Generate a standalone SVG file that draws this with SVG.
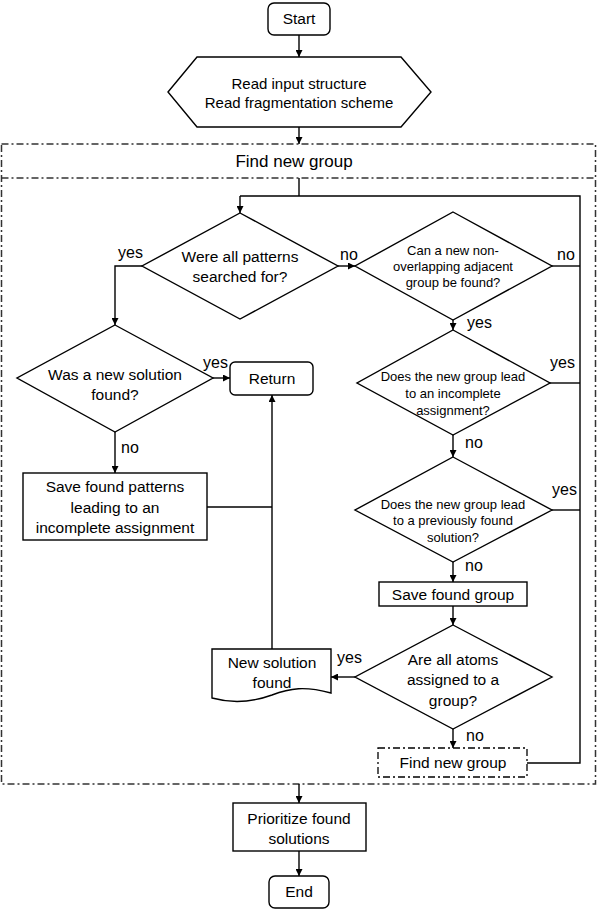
<svg xmlns="http://www.w3.org/2000/svg" width="598" height="910" viewBox="0 0 598 910">
<defs>
<marker id="ah" viewBox="0 0 10 10" refX="10" refY="5" markerWidth="7" markerHeight="7" markerUnits="userSpaceOnUse" orient="auto">
<path d="M0,0 L10,5 L0,10 Z" fill="#000"/>
</marker>
<style>
.s{fill:#fff;stroke:#000;stroke-width:1.4}
.d{fill:none;stroke:#333;stroke-width:1.5;stroke-dasharray:7 3 2 3}
.ds{fill:#fff;stroke:#000;stroke-width:1.3;stroke-dasharray:7 3 2 3}
.c{fill:none;stroke:#000;stroke-width:1.4}
.a{marker-end:url(#ah)}
text{font-family:"Liberation Sans",Arial,sans-serif;fill:#000;text-anchor:middle}
.t{font-size:15.5px}
.r{font-size:15px}
.m{font-size:13px}
.l{font-size:16px;text-anchor:start}
.h{font-size:17px}
</style>
</defs>
<g id="container">
<rect class="d" x="1.5" y="144" width="594" height="640"/>
<line class="d" x1="1.5" y1="178" x2="595.5" y2="178"/>
<text class="h" x="294" y="167">Find new group</text>
</g>
<g id="connectors">
<path class="c a" d="M299,35 V57"/>
<path class="c a" d="M299,127 V144"/>
<path class="c" d="M299,178 V196 M240,196 H580 V763 H527"/>
<path class="c a" d="M240,196 V213"/>
<path class="c a" d="M142,266 H115 V325"/>
<path class="c a" d="M338,266 H355"/>
<path class="c" d="M552,266 H580"/>
<path class="c a" d="M453,320 V330"/>
<path class="c" d="M550,383 H580"/>
<path class="c a" d="M453,435 V457"/>
<path class="c" d="M552,510 H580"/>
<path class="c a" d="M453,562 V582"/>
<path class="c a" d="M453,606 V625"/>
<path class="c a" d="M355,677 H331"/>
<path class="c a" d="M453,729 V748"/>
<path class="c a" d="M213,378 H230"/>
<path class="c a" d="M115,432 V473"/>
<path class="c" d="M207,507 H272"/>
<path class="c a" d="M272,649 V395"/>
<path class="c a" d="M299,784 V803"/>
<path class="c a" d="M299,851 V876"/>
<text class="l" x="118" y="258">yes</text>
<text class="l" x="340" y="260">no</text>
<text class="l" x="557" y="260">no</text>
<text class="l" x="467" y="328">yes</text>
<text class="l" x="550" y="368">yes</text>
<text class="l" x="465" y="448">no</text>
<text class="l" x="552" y="495">yes</text>
<text class="l" x="465" y="571">no</text>
<text class="l" x="337" y="663">yes</text>
<text class="l" x="466" y="741">no</text>
<text class="l" x="203" y="368">yes</text>
<text class="l" x="121" y="453">no</text>
</g>
<g id="start">
<rect class="s" x="268" y="3" width="62" height="32" rx="6"/>
<text class="t" x="299" y="24">Start</text>
</g>
<g id="read">
<path class="s" d="M168,92 L197,57 H401 L431,92 L401,127 H197 Z"/>
<text class="r" x="299" y="89">Read input structure</text>
<text class="r" x="299" y="108">Read fragmentation scheme</text>
</g>
<g id="all-patterns">
<path class="s" d="M240,213 L338,266 L240,319 L142,266 Z"/>
<text class="t" x="240" y="262">Were all patterns</text>
<text class="t" x="240" y="282">searched for?</text>
</g>
<g id="new-solution-q">
<path class="s" d="M115,325 L213,378 L115,432 L17,378 Z"/>
<text class="t" x="115" y="380">Was a new solution</text>
<text class="t" x="115" y="400">found?</text>
</g>
<g id="return">
<rect class="s" x="230" y="362" width="83" height="33" rx="5"/>
<text class="t" x="272" y="384">Return</text>
</g>
<g id="save-patterns">
<rect class="s" x="23" y="473" width="184" height="67"/>
<text class="t" x="115" y="492">Save found patterns</text>
<text class="t" x="115" y="513">leading to an</text>
<text class="t" x="115" y="533">incomplete assignment</text>
</g>
<g id="adjacent">
<path class="s" d="M453,212 L552,266 L453,320 L355,266 Z"/>
<text class="m" x="453" y="255">Can a new non-</text>
<text class="m" x="453" y="271">overlapping adjacent</text>
<text class="m" x="453" y="287">group be found?</text>
</g>
<g id="incomplete">
<path class="s" d="M453,330 L550,383 L453,435 L357,383 Z"/>
<text class="m" x="453" y="381">Does the new group lead</text>
<text class="m" x="453" y="398">to an incomplete</text>
<text class="m" x="453" y="415">assignment?</text>
</g>
<g id="previous">
<path class="s" d="M453,457 L552,510 L453,562 L355,510 Z"/>
<text class="m" x="453" y="509">Does the new group lead</text>
<text class="m" x="453" y="525">to a previously found</text>
<text class="m" x="453" y="542">solution?</text>
</g>
<g id="save-group">
<rect class="s" x="379" y="582" width="148" height="24"/>
<text class="t" x="453" y="600">Save found group</text>
</g>
<g id="all-atoms">
<path class="s" d="M453,625 L552,677 L453,729 L355,677 Z"/>
<text class="t" x="453" y="665">Are all atoms</text>
<text class="t" x="453" y="685">assigned to a</text>
<text class="t" x="453" y="706">group?</text>
</g>
<g id="new-solution">
<path class="s" d="M212,649 H331 V693 C305,686 290,688 272,695 C250,703 230,703 212,698 Z"/>
<text class="t" x="272" y="668">New solution</text>
<text class="t" x="272" y="688">found</text>
</g>
<g id="find-new-group">
<rect class="ds" x="378" y="748" width="149" height="29"/>
<text class="t" x="453" y="768">Find new group</text>
</g>
<g id="prioritize">
<rect class="s" x="233" y="803" width="133" height="48"/>
<text class="t" x="299" y="824">Prioritize found</text>
<text class="t" x="299" y="844">solutions</text>
</g>
<g id="end">
<rect class="s" x="269" y="876" width="60" height="32" rx="6"/>
<text class="t" x="299" y="897">End</text>
</g>
</svg>
